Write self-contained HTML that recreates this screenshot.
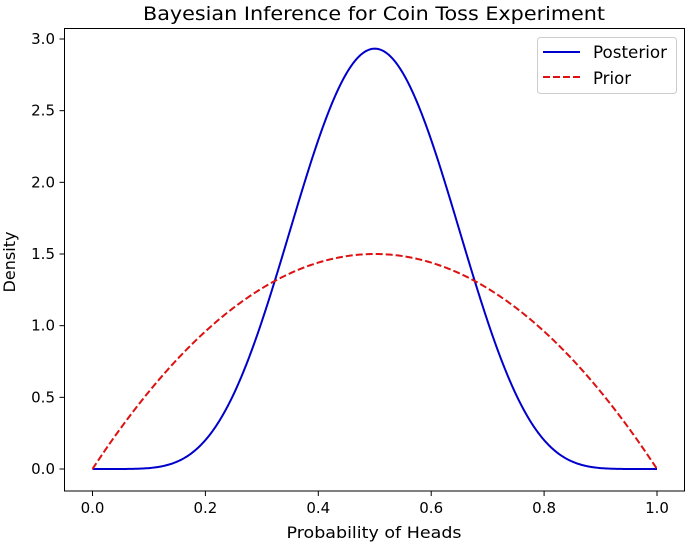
<!DOCTYPE html>
<html><head><meta charset="utf-8"><style>
html,body{margin:0;padding:0;background:#fff;}
svg{display:block;font-family:"DejaVu Sans","Liberation Sans",sans-serif;}
</style></head><body>
<svg id="s" width="688" height="545" xmlns="http://www.w3.org/2000/svg">
<rect width="688" height="545" fill="#fff"/>
<text x="374" y="20" font-size="19" text-anchor="middle" fill="#000" textLength="462" lengthAdjust="spacingAndGlyphs">Bayesian Inference for Coin Toss Experiment</text>
<g id="curves"></g>
<rect x="64.5" y="28.5" width="620" height="462.5" fill="none" stroke="#000" stroke-width="1"/>
<g font-size="15" fill="#000" text-anchor="middle" id="xt"></g>
<g font-size="15" fill="#000" text-anchor="end" id="yt"></g>
<text x="374" y="538" font-size="16" text-anchor="middle" textLength="175" lengthAdjust="spacingAndGlyphs">Probability of Heads</text>
<text transform="translate(15,262) rotate(-90)" font-size="16" text-anchor="middle" textLength="61" lengthAdjust="spacingAndGlyphs">Density</text>
<rect x="537.5" y="37.5" width="139" height="56" rx="3" fill="#fff" stroke="#ccc"/>
<line x1="543" y1="52" x2="580" y2="52" stroke="#0000cc" stroke-width="2"/>
<line x1="543" y1="77" x2="580" y2="77" stroke="#dd1111" stroke-width="2" stroke-dasharray="7,3"/>
<text x="593" y="58" font-size="17" textLength="74" lengthAdjust="spacingAndGlyphs">Posterior</text>
<text x="593" y="84" font-size="17" textLength="38" lengthAdjust="spacingAndGlyphs">Prior</text>
</svg>
<script>
var X0=92.5,X1=657,Y0=469,Y3=39;
function px(x){return X0+(X1-X0)*x}function py(y){return Y0+(Y3-Y0)*y/3}
var p1="",p2="";
for(var i=0;i<=400;i++){var x=i/400;
var pr=6*x*(1-x), po=12012*Math.pow(x,6)*Math.pow(1-x,6);
p1+=(i?"L":"M")+px(x).toFixed(2)+","+py(po).toFixed(2);
p2+=(i?"L":"M")+px(x).toFixed(2)+","+py(pr).toFixed(2);}
var ns="http://www.w3.org/2000/svg";
function path(d,c,da){var e=document.createElementNS(ns,"path");e.setAttribute("d",d);e.setAttribute("fill","none");e.setAttribute("stroke",c);e.setAttribute("stroke-width","2");if(da)e.setAttribute("stroke-dasharray",da);document.getElementById("curves").appendChild(e);}
path(p1,"#0000cc");path(p2,"#dd1111","7,3");
var xt=document.getElementById("xt"),yt=document.getElementById("yt");
for(var k=0;k<=5;k++){var x=px(k/5);
var l=document.createElementNS(ns,"line");l.setAttribute("x1",x);l.setAttribute("x2",x);l.setAttribute("y1",491);l.setAttribute("y2",496);l.setAttribute("stroke","#000");xt.appendChild(l);
var t=document.createElementNS(ns,"text");t.setAttribute("x",x);t.setAttribute("y",513);t.textContent=(k/5).toFixed(1);xt.appendChild(t);}
for(var k=0;k<=6;k++){var y=py(k*0.5);
var l=document.createElementNS(ns,"line");l.setAttribute("x1",59.5);l.setAttribute("x2",64.5);l.setAttribute("y1",y);l.setAttribute("y2",y);l.setAttribute("stroke","#000");yt.appendChild(l);
var t=document.createElementNS(ns,"text");t.setAttribute("x",55);t.setAttribute("y",y+5);t.textContent=(k*0.5).toFixed(1);yt.appendChild(t);}
</script>
</body></html>
